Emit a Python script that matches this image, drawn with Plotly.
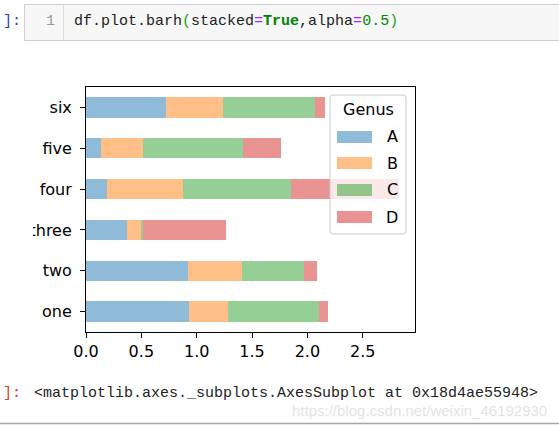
import plotly.graph_objects as go

# ---- data ----
categories = ["one", "two", "three", "four", "five", "six"]
series_names = ["A", "B", "C", "D"]
A = [0.934, 0.925, 0.373, 0.190, 0.139, 0.723]
B = [0.352, 0.485, 0.127, 0.690, 0.379, 0.515]
C = [0.822, 0.563, 0.018, 0.975, 0.904, 0.834]
D = [0.082, 0.114, 0.750, 0.976, 0.343, 0.091]
x_ticks = [0.0, 0.5, 1.0, 1.5, 2.0, 2.5]
x_tick_labels = ["0.0", "0.5", "1.0", "1.5", "2.0", "2.5"]
legend_title = "Genus"

W, H = 559, 425
colors = ["rgba(31,119,180,0.5)", "rgba(255,127,14,0.5)",
          "rgba(44,160,44,0.5)", "rgba(214,39,40,0.5)"]

def px(x):
    return x / W

def py(y):
    return 1 - y / H

fig = go.Figure()
for name, vals, col in zip(series_names, [A, B, C, D], colors):
    fig.add_trace(go.Bar(y=categories, x=vals, name=name, orientation="h",
                         width=0.5, marker=dict(color=col, line=dict(width=0)),
                         showlegend=False))

totals = [a + b + c + d for a, b, c, d in zip(A, B, C, D)]
xmax = max(totals) * 1.05

axis_font = dict(family="DejaVu Sans", size=16, color="black")
fig.update_layout(
    width=W, height=H, margin=dict(l=0, r=0, t=0, b=0, autoexpand=False),
    paper_bgcolor="white", plot_bgcolor="white",
    barmode="stack", bargap=0,
    xaxis=dict(domain=[px(86), px(415)], range=[0, xmax], tickvals=x_ticks,
               ticktext=x_tick_labels, ticks="outside", ticklen=5, tickwidth=1,
               tickcolor="black", showline=True, linecolor="black", linewidth=1,
               mirror=True, showgrid=False, zeroline=False, tickfont=axis_font,
               automargin=False),
    yaxis=dict(domain=[py(332), py(87)], categoryorder="array",
               categoryarray=categories, range=[-0.5, 5.5], ticks="outside",
               ticklen=5, tickwidth=1, tickcolor="black", showline=True,
               linecolor="black", linewidth=1, mirror=True, showgrid=False,
               zeroline=False, tickfont=axis_font, automargin=False,
               ticklabelstandoff=5),
)

shapes = []
annotations = []

# ---- legend (manual, matplotlib style) ----
lx0, lx1, ly0, ly1, r = 330, 406, 95, 234, 3
path = (f"M {px(lx0+r)},{py(ly0)} L {px(lx1-r)},{py(ly0)} Q {px(lx1)},{py(ly0)} {px(lx1)},{py(ly0+r)} "
        f"L {px(lx1)},{py(ly1-r)} Q {px(lx1)},{py(ly1)} {px(lx1-r)},{py(ly1)} "
        f"L {px(lx0+r)},{py(ly1)} Q {px(lx0)},{py(ly1)} {px(lx0)},{py(ly1-r)} "
        f"L {px(lx0)},{py(ly0+r)} Q {px(lx0)},{py(ly0)} {px(lx0+r)},{py(ly0)} Z")
shapes.append(dict(type="path", path=path, xref="paper", yref="paper",
                   fillcolor="rgba(255,255,255,0.8)",
                   line=dict(color="rgba(204,204,204,1)", width=1), layer="above"))
annotations.append(dict(text=legend_title, x=px(368), y=py(110), xref="paper", yref="paper",
                        showarrow=False, xanchor="center", yanchor="middle",
                        font=dict(family="DejaVu Sans", size=16, color="black")))
entry_y = [137, 163, 190, 217]
for name, col, ey in zip(series_names, colors, entry_y):
    shapes.append(dict(type="rect", xref="paper", yref="paper",
                       x0=px(337), x1=px(372), y0=py(ey - 6), y1=py(ey + 6),
                       fillcolor=col, line=dict(width=0), layer="above"))
    annotations.append(dict(text=name, x=px(392), y=py(ey), xref="paper", yref="paper",
                            showarrow=False, xanchor="center", yanchor="middle",
                            font=dict(family="DejaVu Sans", size=16, color="black")))

# ---- notebook chrome ----
# output area clips the left edge of the tick labels (as in the notebook)
shapes.append(dict(type="rect", xref="paper", yref="paper", x0=0, x1=px(33),
                   y0=py(80), y1=py(330), fillcolor="white",
                   line=dict(width=0), layer="above"))
shapes.append(dict(type="rect", xref="paper", yref="paper", x0=px(24.5), x1=px(560),
                   y0=py(4.5), y1=py(40.5), fillcolor="#f7f7f7",
                   line=dict(color="#cfcfcf", width=1), layer="below"))
shapes.append(dict(type="line", xref="paper", yref="paper", x0=px(63.5), x1=px(63.5),
                   y0=py(5), y1=py(40), line=dict(color="#dddddd", width=1), layer="below"))
shapes.append(dict(type="line", xref="paper", yref="paper", x0=0, x1=1,
                   y0=py(423.5), y1=py(423.5), line=dict(color="#a8a8a8", width=1.5)))

mono = "Liberation Mono"
annotations.append(dict(text="]:", x=px(1), y=py(22), xref="paper", yref="paper",
                        showarrow=False, xanchor="left", yanchor="middle",
                        font=dict(family=mono, size=15, color="#303F9F")))
annotations.append(dict(text="1", x=px(50), y=py(22), xref="paper", yref="paper",
                        showarrow=False, xanchor="center", yanchor="middle",
                        font=dict(family=mono, size=15, color="#999999")))
code = ("df.plot.barh<span style='color:#22a022'>(</span>stacked"
        "<span style='color:#aa22ff'>=</span><span style='color:#008000'><b>True</b></span>,alpha"
        "<span style='color:#aa22ff'>=</span><span style='color:#008800'>0.5</span>"
        "<span style='color:#22a022'>)</span>")
annotations.append(dict(text=code, x=px(72), y=py(22), xref="paper", yref="paper",
                        showarrow=False, xanchor="left", yanchor="middle",
                        font=dict(family=mono, size=15, color="#222222")))
annotations.append(dict(text="]:", x=px(1), y=py(393), xref="paper", yref="paper",
                        showarrow=False, xanchor="left", yanchor="middle",
                        font=dict(family=mono, size=15, color="#D84315")))
annotations.append(dict(text="&lt;matplotlib.axes._subplots.AxesSubplot at 0x18d4ae55948&gt;",
                        x=px(32), y=py(393), xref="paper", yref="paper",
                        showarrow=False, xanchor="left", yanchor="middle",
                        font=dict(family=mono, size=15, color="#222222")))
annotations.append(dict(text="https://blog.csdn.net/weixin_46192930",
                        x=px(549), y=py(410), xref="paper", yref="paper",
                        showarrow=False, xanchor="right", yanchor="middle",
                        font=dict(family="Liberation Sans", size=15, color="#e4e4e4")))

fig.update_layout(shapes=shapes, annotations=annotations)
fig.write_html("out.html", config={"displayModeBar": False},
               post_script="document.body.style.margin='0px';document.body.style.overflow='hidden';")
